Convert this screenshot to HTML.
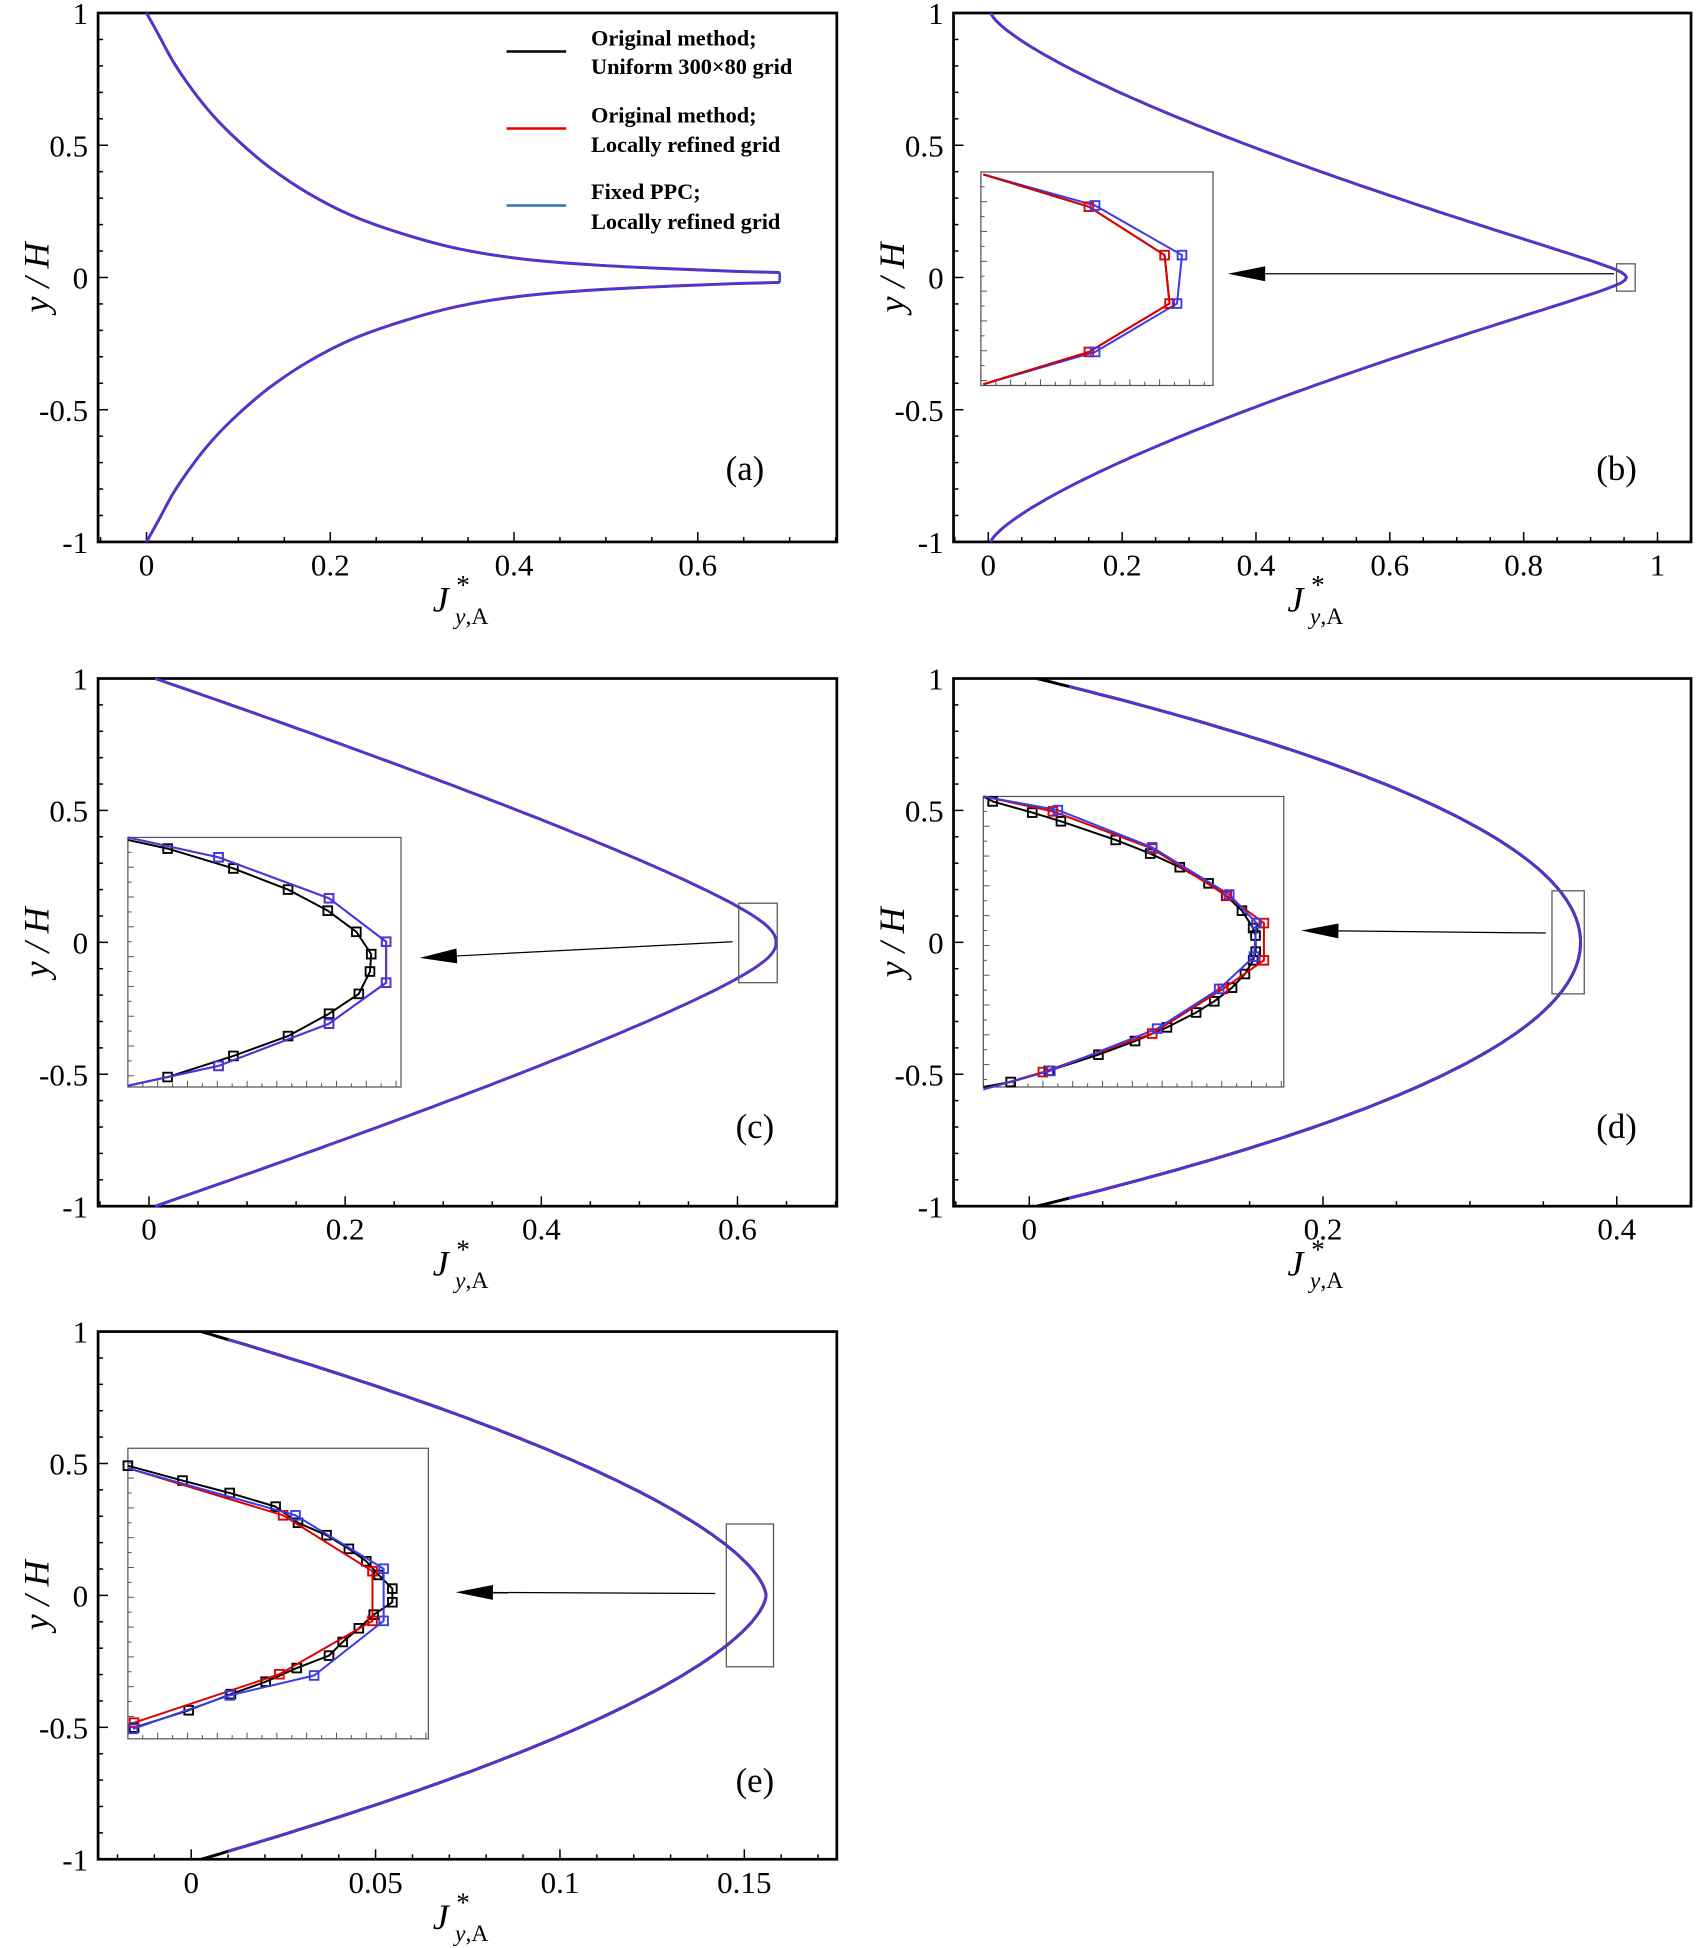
<!DOCTYPE html>
<html><head><meta charset="utf-8"><style>
html,body{margin:0;padding:0;background:#fff;}
svg{display:block;}
text{font-family:"Liberation Serif",serif;fill:#000;}
</style></head><body>
<svg id="s" width="1696" height="1948" viewBox="0 0 1366 1568" xmlns="http://www.w3.org/2000/svg"></svg>
<script>
const S=document.getElementById('s');let h='';
const BL='#000',RD='#e00000',BU='#3b3be8';
function ax(L,R,T,B,x0,k,xt,xm,tag,tx,ty){
 h+=`<rect x="${L}" y="${T}" width="${R-L}" height="${B-T}" fill="none" stroke="#000" stroke-width="2.2"/>`;
 for(let i=0;i<=20;i++){const v=1-i*0.1;const py=T+(1-v)/2*(B-T);const maj=i%5==0;
  h+=`<line x1="${L}" x2="${L+(maj?8:4)}" y1="${py}" y2="${py}" stroke="#000" stroke-width="1.2"/>`;
  if(maj){const lab=(Math.round(v*10)/10).toString();h+=`<text x="${L-8}" y="${py+9}" font-size="25" text-anchor="end">${lab}</text>`;}}
 const xmin=(L-x0)/k,xmax=(R-x0)/k;
 for(let j=Math.ceil(xmin/xm-1e-6);j*xm<=xmax+1e-9;j++){const v=j*xm;const px=x0+k*v;
  const maj=Math.abs(v/xt-Math.round(v/xt))<1e-6;
  h+=`<line x1="${px}" x2="${px}" y1="${B}" y2="${B-(maj?8:4)}" stroke="#000" stroke-width="1.2"/>`;
  if(maj){const lab=Number(v.toFixed(3)).toString();h+=`<text x="${px}" y="${B+27}" font-size="25" text-anchor="middle">${lab}</text>`;}}
 const cx=(L+R)/2;
 h+=`<text x="${L-50}" y="${(T+B)/2}" font-size="29" font-style="italic" text-anchor="middle" transform="rotate(-90 ${L-50} ${(T+B)/2})" dy="10">y / H</text>`;
 h+=`<text x="${cx-28}" y="${B+56}" font-size="29" font-style="italic">J</text><text x="${cx-9}" y="${B+42}" font-size="22">*</text><text x="${cx-10}" y="${B+66}" font-size="19"><tspan font-style="italic">y</tspan>,A</text>`;
 h+=`<text x="${tx}" y="${ty}" font-size="28" text-anchor="middle">${tag}</text>`;
}
function pl(pts,c,w){h+=`<polyline points="${pts.map(p=>p.join(',')).join(' ')}" fill="none" stroke="${c}" stroke-width="${w||2}" stroke-linejoin="round"/>`;}
function cr(P,c,w){let d=`M${P[0][0]},${P[0][1]}`;for(let i=0;i<P.length-1;i++){const p0=P[Math.max(i-1,0)],p1=P[i],p2=P[i+1],p3=P[Math.min(i+2,P.length-1)];
 d+=` C${(p1[0]+(p2[0]-p0[0])/6).toFixed(1)},${(p1[1]+(p2[1]-p0[1])/6).toFixed(1)} ${(p2[0]-(p3[0]-p1[0])/6).toFixed(1)},${(p2[1]-(p3[1]-p1[1])/6).toFixed(1)} ${p2[0]},${p2[1]}`;}
 h+=`<path d="${d}" fill="none" stroke="${c}" stroke-width="${w}" stroke-linejoin="round"/>`;}
function mk(pts,c){pts.forEach(p=>{h+=`<rect x="${p[0]-3.5}" y="${p[1]-3.5}" width="7" height="7" fill="none" stroke="${c}" stroke-width="1.5"/>`;});}
function curve(T,B,f){const a=[];for(let i=0;i<=200;i++){const y=1-i*0.01;a.push([f(y).toFixed(1),(T+(1-y)/2*(B-T)).toFixed(1)]);}return a;}
function ay(y,e){return (Math.sqrt(y*y+e*e)-e)/(Math.sqrt(1+e*e)-e);}
function arrow(x1,y1,x2,y2){const dx=x2-x1,dy=y2-y1,L=Math.hypot(dx,dy),ux=dx/L,uy=dy/L;
 const bx=x2-ux*30,by=y2-uy*30;h+=`<line x1="${x1}" y1="${y1}" x2="${bx}" y2="${by}" stroke="#000" stroke-width="1"/>`;
 h+=`<polygon points="${x2},${y2} ${bx-uy*6},${by+ux*6} ${bx+uy*6},${by-ux*6}" fill="#000"/>`;}
function inset(L,T,R,B){h+=`<rect x="${L}" y="${T}" width="${R-L}" height="${B-T}" fill="#fff" stroke="#555" stroke-width="1"/>`;
 for(let y=T+12;y<B;y+=12)h+=`<line x1="${L}" x2="${L+((Math.round((y-T)/12))%2?3:5)}" y1="${y}" y2="${y}" stroke="#555" stroke-width="0.8"/>`;
 for(let x=L+12;x<R;x+=12)h+=`<line y1="${B}" y2="${B-((Math.round((x-L)/12))%2?3:5)}" x1="${x}" x2="${x}" stroke="#555" stroke-width="0.8"/>`;}

/* (a) */
ax(79,674,10,436,118,740,0.2,0.05,'(a)',600,386);
const A=[[118,10],[128,28],[140,50],[155,72],[172,93],[193,114],[218,135],[248,155],[283,173],[325,188],[370,200],[420,208],[480,213],[540,216],[590,218],[628,219]];
const A2=A.map(p=>[p[0],446-p[1]]).reverse();
cr(A,RD,2.4);cr(A,BU,2);cr(A2,RD,2.4);cr(A2,BU,2);
h+=`<line x1="628" x2="628" y1="219" y2="227" stroke="${BU}" stroke-width="2"/>`;
h+=`<line x1="408" x2="456" y1="41" y2="41" stroke="#000" stroke-width="2"/><line x1="408" x2="456" y1="103" y2="103" stroke="${RD}" stroke-width="2"/><line x1="408" x2="456" y1="165" y2="165" stroke="#2e75b6" stroke-width="2"/>`;
[['Original method;',36],['Uniform 300×80 grid',59],['Original method;',98],['Locally refined grid',122],['Fixed PPC;',160],['Locally refined grid',184]].forEach(t=>{h+=`<text x="476" y="${t[1]}" font-size="18" font-weight="bold">${t[0]}</text>`;});

/* (b) */
ax(768,1362,10,436,796,539,0.2,0.05,'(b)',1302,386);
const Bc=curve(10,436,y=>798+512*Math.pow(Math.max(0,1-ay(y,0.03)),1.36));
pl(Bc,RD,2.4);pl(Bc,BU,2);
h+=`<rect x="1302" y="212" width="15" height="22" fill="none" stroke="#555" stroke-width="1"/>`;
arrow(1300,220,989,220);
inset(790,138,977,310);
let p1=[[792,140],[877,166],[938,205],[942,244],[877,283],[792,309]];
let p2=[[792,140],[882,165],[952,205],[948,244],[882,283],[792,309]];
pl(p2,BU,1.6);pl(p1,BL,1.6);pl(p1,RD,1.6);mk(p1.slice(1,5),RD);mk(p2.slice(1,5),BU);

/* (c) */
ax(79,674,546,971,120,790,0.2,0.05,'(c)',608,916);
const C=curve(546,971,y=>125+500*(1-Math.pow(ay(y,0.07),1.15)));
pl(C,RD,2.4);pl(C,BU,2);
h+=`<rect x="595" y="727" width="31" height="64" fill="none" stroke="#555" stroke-width="1"/>`;
arrow(590,758,338,771);
inset(103,674,323,875);
const cb=[[103,676],[135,683],[188,699],[232,716],[264,733],[287,750],[299,768],[298,782],[289,800],[265,816],[232,834],[188,850],[135,867],[103,874]];
const crr=[[103,674],[176,690],[265,723],[311,758],[311,791],[265,824],[176,858],[103,874]];
pl(cb,BL,1.6);mk(cb.slice(1,13),BL);pl(crr,RD,1.6);pl(crr,BU,1.6);mk(crr.slice(1,7),RD);mk(crr.slice(1,7),BU);

/* (d) */
ax(768,1362,546,971,829,1183,0.2,0.05,'(d)',1302,916);
const D=curve(546,971,y=>835+438*(1-y*y));
pl(D,BL,2.4);pl(D.slice(3,198),RD,2.4);pl(D.slice(3,198),BU,2);
h+=`<rect x="1250" y="717" width="26" height="83" fill="none" stroke="#555" stroke-width="1"/>`;
arrow(1245,751,1048,749);
inset(792,641,1034,875);
const dy=[645,654,661,676,687,698,711,721,733,747,753,766,773,784,795,806,815,827,838,849,862,871];
const db=dy.map(y=>[+(1012-220*Math.pow((y-760)/117,2)).toFixed(1),y]);
pl([[792,641]].concat(db).concat([[792,875]]),BL,1.6);mk(db,BL);
const dr=[[792,641],[848,653],[928,683],[988,721],[1018,743],[1018,773],[985,796],[928,832],[840,863],[792,877]];
const dbl=[[792,641],[852,652],[928,682],[990,720],[1012,743],[1010,770],[982,796],[932,828],[846,862],[792,877]];
pl(dr,RD,1.6);pl(dbl,BU,1.6);mk(dr.slice(1,9),RD);mk(dbl.slice(1,9),BU);

/* (e) */
ax(79,674,1072,1497,154,2970,0.05,0.01,'(e)',608,1443);
const E=curve(1072,1497,y=>162+455*(1-Math.pow(Math.abs(y),1.6)));
pl(E,BL,2.4);pl(E.slice(3,198),RD,2.4);pl(E.slice(3,198),BU,2);
h+=`<rect x="585" y="1227" width="38" height="115" fill="none" stroke="#555" stroke-width="1"/>`;
arrow(576,1283,367,1282);
inset(103,1166,345,1400);
const eb=[[103,1180],[147,1192],[185,1202],[222,1213],[240,1226],[263,1236],[281,1247],[295,1257],[305,1268],[316,1279],[316,1290],[301,1300],[289,1311],[276,1322],[265,1333],[239,1343],[214,1354],[186,1364],[152,1377],[108,1391]];
const er=[[103,1182],[228,1220],[300,1265],[300,1305],[225,1348],[108,1387]];
const eu=[[103,1182],[238,1220],[309,1263],[309,1305],[253,1349],[185,1365],[107,1392]];
pl(eb,BL,1.6);mk(eb,BL);pl(er,RD,1.6);mk(er.slice(1),RD);pl(eu,BU,1.6);mk(eu.slice(1),BU);

S.innerHTML=h;
</script>
</body></html>
